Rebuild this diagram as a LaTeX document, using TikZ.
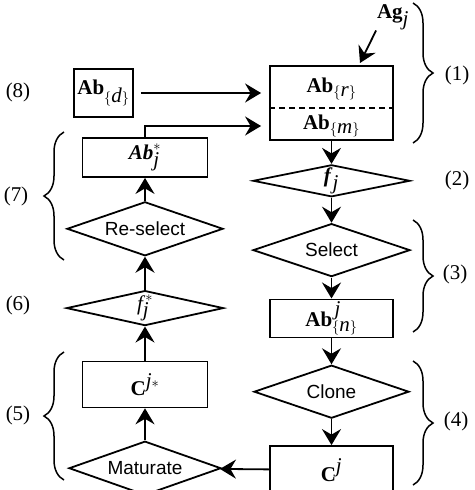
\documentclass[tikz,border=0pt]{standalone}
\usepackage{fontspec}
\setmainfont{Liberation Serif}
\newfontfamily\lsans{Liberation Sans}
\usetikzlibrary{shapes.geometric,arrows.meta,positioning,decorations.pathreplacing,calc}

\begin{document}
\begin{tikzpicture}[
  x=1pt, y=-1pt,
  line width=1.8pt,
  box/.style  = {draw, rectangle, minimum width=123pt, inner sep=0pt,
                 font=\fontsize{21}{23}\selectfont},
  dia/.style  = {draw, diamond, aspect=3, inner sep=0pt, minimum width=157pt,
                 font=\lsans\fontsize{19}{21}\selectfont},
  mdia/.style = {dia, font=\fontsize{21}{23}\selectfont},
  arr/.style  = {-{Stealth[length=16pt,width=19pt,inset=5.5pt]}},
  brc/.style  = {decorate, decoration={brace, amplitude=20pt}, line width=1.5pt},
  lbl/.style  = {font=\fontsize{21}{23}\selectfont, inner sep=0pt},
  mlbl/.style = {font=\fontsize{21}{23}\selectfont, inner sep=0pt},
]
\useasboundingbox (0,0) rectangle (474,490);

% right column
\node[box, minimum height=74pt] (main) at (331.5,103) {};
\node[mlbl] (abr) at (331.5,89) {$\textbf{Ab}_{\{\textit{r}\}}$};
\node[mlbl] (abm) at (331.5,126) {$\textbf{Ab}_{\{\textit{m}\}}$};
\coordinate (split) at (331.5,108);
\draw[line width=1.5pt, dash pattern=on 6pt off 4pt] (split -| main.west) -- (split -| main.east);
\node[mdia, minimum height=32pt, below=23pt of main] (fj) {$\textbf{\textit{f}}_{\textit{j}}$};
\node[dia, minimum height=53pt, below=25pt of fj] (sel) {Select};
\node[box, minimum height=38pt, below=21pt of sel] (abn) {$\textbf{Ab}^{\,\textit{j}}_{\{\textit{n}\}}$};
\node[dia, minimum width=155pt, minimum height=53pt, below=26pt of abn] (clone) {Clone};
\node[box, minimum height=48pt, below=26pt of clone] (cj) {$\textbf{C}^{\textit{j}}$};

% left column
\node[box, minimum width=59pt, minimum height=48pt] (abd) at (103.5,93) {$\textbf{Ab}_{\{\textit{d}\}}$};
\node[box, minimum width=125pt, minimum height=39pt] (abjs) at (145,157.5) {$\textbf{\textit{Ab}}^{*}_{\textit{j}}$};
\node[dia, minimum width=156pt, minimum height=54pt, below=23pt of abjs] (resel) {Re-select};
\node[mdia, minimum height=35pt, below=33pt of resel] (fjs) {$\textit{f}^{\,*}_{\textit{j}}$};
\node[box, minimum width=125pt, minimum height=46pt, below=34pt of fjs] (cjs) {$\textbf{C}^{\textit{j}*}$};
\node[dia, minimum width=152pt, minimum height=54pt, below=32pt of cjs] (mat) {Maturate};

% antigen
\node[mlbl] (agj) at (393,17) {$\textbf{Ag}_{\textit{j}}$};
\coordinate (agtip) at (360,63);

% arrows
\draw[arr] (agj.south west) -- (agtip);
\draw[arr, shorten <=7pt, shorten >=8pt] (abd) -- (abd -| main.west);
\draw[arr, shorten >=8pt] (abjs.north) |- (abm -| main.west);
\draw[arr] (main) -- (fj);
\draw[arr] (fj) -- (sel);
\draw[arr] (sel) -- (abn);
\draw[arr] (abn) -- (clone);
\draw[arr] (clone) -- (cj);
\draw[arr] (cj) -- (mat);
\draw[arr] (mat) -- (cjs);
\draw[arr] (cjs) -- (fjs);
\draw[arr] (fjs) -- (resel);
\draw[arr] (resel) -- (abjs);

% braces and step numbers
\draw[brc] (413,3) -- (413,143);
\draw[brc] (413,220) -- (413,332);
\draw[brc] (413,361) -- (413,485);
\draw[brc] (64,260) -- (64,132);
\draw[brc] (64,480) -- (64,352);
\node[lbl] (n1) at (457,75) {(1)};
\node[lbl] (n2) at (457,180) {(2)};
\node[lbl] (n3) at (455,274) {(3)};
\node[lbl] (n4) at (456,421) {(4)};
\node[lbl] (n5) at (18,415) {(5)};
\node[lbl] (n6) at (18,305) {(6)};
\node[lbl] (n7) at (16,196) {(7)};
\node[lbl] (n8) at (18,92) {(8)};
\end{tikzpicture}
\end{document}
